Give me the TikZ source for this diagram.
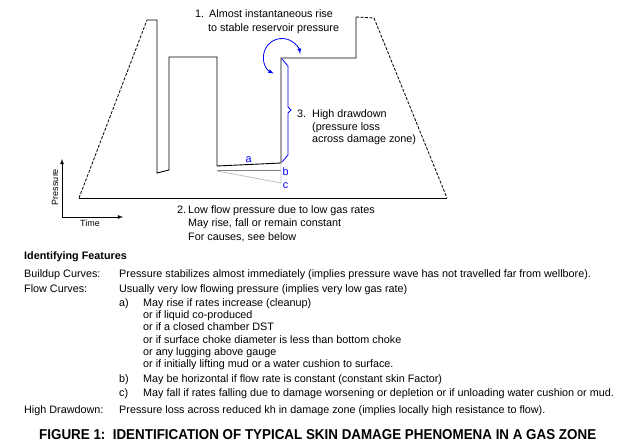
\documentclass[tikz,border=0pt]{standalone}
\usepackage{fontspec}
\setmainfont{Liberation Sans}
\usepackage{xcolor}
\usepackage{graphicx}
\usepackage{tikz}
\usetikzlibrary{arrows}
\definecolor{markblue}{HTML}{0000FF}
\definecolor{midgray}{HTML}{808080}
\definecolor{palegray}{HTML}{C0C0C0}

\begin{document}
\begin{tikzpicture}[x=1pt, y=-1pt, >=latex,
    txt/.style={inner sep=0pt, anchor=west, text height=7pt, text depth=2pt, font=\fontsize{10.8}{12}\selectfont},
    small/.style={inner sep=0pt, font=\fontsize{9}{11}\selectfont},
    bluelbl/.style={inner sep=0pt, text=markblue, font=\fontsize{10.8}{12}\selectfont},
    curve/.style={line width=0.9pt},
    dashcurve/.style={line width=0.8pt, dash pattern=on 3pt off 1.5pt}]
    \useasboundingbox (0,0) rectangle (620,446);

    % axes
    \coordinate (origin) at (62,217);
    \coordinate (ptop) at (62,159);
    \coordinate (tend) at (123,217);
    \draw [->, line width=0.8pt] (origin) -- (ptop);
    \draw [->, line width=0.8pt] (origin) -- (tend);
    \node (plab) [small, rotate=90] at (55,187) {Pressure};
    \node (tlab) [small, anchor=west] at (80,223.5) {Time};

    % pressure history
    \draw [dashcurve] (79,198) -- (147,20);
    \draw [curve] (79,198) -- (447,198);
    \draw [curve] (147,20) -- (157,20) -- (157,173) -- (169,170) -- (169,57) -- (217,57)
        -- (217,166) -- (281,163) -- (281,58) -- (356,58) -- (356,17);
    \draw [dashcurve] (356,17) -- (374,18) -- (447,198);
    \draw [line width=0.8pt, midgray] (217,170) -- (281,170);
    \draw [line width=0.8pt, palegray] (217,171) -- (281,183) -- (281,163);

    % drawdown brace and rise arrow
    \draw [line width=0.8pt, markblue] (282,59) -- (288,66) -- (288,107) -- (291,110)
        -- (288,113) -- (288,155) -- (282,162);
    \draw [<->, line width=0.8pt, markblue] (282,57) ++(117:18.5) arc[start angle=117, end angle=350, radius=18.5];

    \node (ma) [bluelbl] at (248.5,160) {a};
    \node (mb) [bluelbl] at (285.5,171.5) {b};
    \node (mc) [bluelbl] at (285.5,186) {c};

    % chart labels
    \node (n1) [txt] at (195,15.5) {1.};
    \node (n1a) [txt] at (209,15.5) {Almost instantaneous rise};
    \node (n1b) [txt] at (208,29.5) {to stable reservoir pressure};
    \node (n3) [txt] at (297,115.5) {3.};
    \node (n3a) [txt] at (312,115.5) {High drawdown};
    \node (n3b) [txt] at (312,128) {(pressure loss};
    \node (n3c) [txt] at (312,140) {across damage zone)};
    \node (n2) [txt] at (177,210.5) {2.};
    \node (n2a) [txt] at (188,210.5) {Low flow pressure due to low gas rates};
    \node (n2b) [txt] at (188,224) {May rise, fall or remain constant};
    \node (n2c) [txt] at (188,237.5) {For causes, see below};

    % identifying features
    \node (feat) [txt, font=\fontsize{10.8}{12}\selectfont\bfseries] at (24,256.5) {Identifying Features};
    \node (lbuild) [txt] at (24,274.5) {Buildup Curves:};
    \node (tbuild) [txt] at (119,274.5) {Pressure stabilizes almost immediately (implies pressure wave has not travelled far from wellbore).};
    \node (lflow) [txt] at (24,289.5) {Flow Curves:};
    \node (tflow) [txt] at (119,289.5) {Usually very low flowing pressure (implies very low gas rate)};
    \node (ka) [txt] at (119,303.5) {a)};
    \node (ta) [txt] at (143,303.5) {May rise if rates increase (cleanup)};
    \node (ta1) [txt] at (143,316) {or if liquid co-produced};
    \node (ta2) [txt] at (143,328) {or if a closed chamber DST};
    \node (ta3) [txt] at (143,340.5) {or if surface choke diameter is less than bottom choke};
    \node (ta4) [txt] at (143,352.5) {or any lugging above gauge};
    \node (ta5) [txt] at (143,365) {or if initially lifting mud or a water cushion to surface.};
    \node (kb) [txt] at (119,379.5) {b)};
    \node (tb) [txt] at (143,379.5) {May be horizontal if flow rate is constant (constant skin Factor)};
    \node (kc) [txt] at (119,393.5) {c)};
    \node (tc) [txt] at (143,393.5) {May fall if rates falling due to damage worsening or depletion or if unloading water cushion or mud.};
    \node (lhigh) [txt] at (24,410.5) {High Drawdown:};
    \node (thigh) [txt] at (119,410.5) {Pressure loss across reduced kh in damage zone (implies locally high resistance to flow).};

    \node (title) [inner sep=0pt, anchor=base west] at (39,439)
        {\resizebox{557pt}{10pt}{\bfseries FIGURE 1:\ \ IDENTIFICATION OF TYPICAL SKIN DAMAGE PHENOMENA IN A GAS ZONE}};
\end{tikzpicture}
\end{document}
